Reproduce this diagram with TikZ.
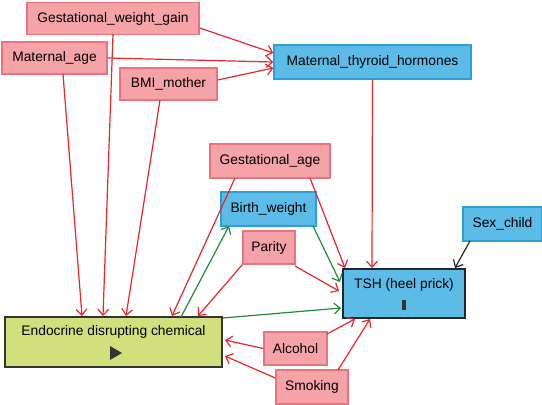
\documentclass[tikz,border=0pt]{standalone}
\usepackage{fontspec}
\setmainfont{Liberation Sans}
\usetikzlibrary{arrows.meta}
\definecolor{rfill}{HTML}{F5A3A8}
\definecolor{rdraw}{HTML}{E9747C}
\definecolor{bfill}{HTML}{5DBBE8}
\definecolor{bdraw}{HTML}{2E9FD6}
\definecolor{gfill}{HTML}{D1E07C}
\definecolor{redarr}{HTML}{E5262D}
\definecolor{grnarr}{HTML}{1E8A3E}
\tikzset{
  box/.style={draw, line width=1.4pt, minimum height=32pt, inner sep=0pt, font=\fontsize{13.8}{15}\selectfont, anchor=center},
  rbox/.style={box, fill=rfill, draw=rdraw},
  bbox/.style={box, fill=bfill, draw=bdraw},
  rarr/.style={draw=redarr, line width=1.2pt, -{Straight Barb[length=6pt,width=11pt]}},
  garr/.style={draw=grnarr, line width=1.2pt, -{Straight Barb[length=6pt,width=11pt]}},
  karr/.style={draw=black!85, line width=1.2pt, -{Straight Barb[length=6pt,width=11pt]}},
}
\begin{document}
\begin{tikzpicture}[x=1pt,y=-1pt]
\useasboundingbox (0,0) rectangle (542,405);
\node[rbox, minimum width=172pt] (gwg) at (113,18.5) {Gestational\_weight\_gain};
\node[rbox, minimum width=105pt] (ma) at (54.5,58) {Maternal\_age};
\node[rbox, minimum width=97pt] (bmi) at (168.5,84) {BMI\_mother};
\node[bbox, minimum width=197pt, minimum height=34pt] (mth) at (372.5,62) {Maternal\_thyroid\_hormones};
\node[rbox, minimum width=120pt, minimum height=34pt] (ga) at (270,161) {Gestational\_age};
\node[bbox, minimum width=95pt, minimum height=34pt] (bw) at (268.5,209) {Birth\_weight};
\node[rbox, minimum width=52pt, minimum height=33pt] (par) at (269,247.5) {Parity};
\node[bbox, minimum width=79pt, minimum height=34pt] (sex) at (502.5,224) {Sex\_child};
\node[draw=black!85, fill=bfill, line width=1.5pt, minimum width=122pt, minimum height=49pt] (tsh) at (404,293.5) {};
\node[font=\fontsize{13.8}{15}\selectfont] (tshlab) at (404,285) {TSH (heel prick)};
\fill[black!80] (402,300) rectangle (406,310);
\node[draw=black!80, fill=gfill, line width=1.5pt, minimum width=217pt, minimum height=50pt] (edc) at (113.5,342) {};
\node[font=\fontsize{13.8}{15}\selectfont] (edclab) at (113.5,332) {Endocrine disrupting chemical};
\fill[black!80] (110,346) -- (122,353) -- (110,360) -- cycle;
\node[rbox, minimum width=63pt, minimum height=33pt] (alc) at (295.5,348.5) {Alcohol};
\node[rbox, minimum width=72pt, minimum height=34pt] (smk) at (312,387) {Smoking};

% edges to maternal thyroid hormones
\draw[rarr] (gwg.east |- 0,28) -- (mth.west |- 0,53);
\draw[rarr] (ma.east) -- (mth.west);
\draw[rarr] (bmi.east |- 0,80) -- (mth.west |- 0,68);
% edges to EDC
\draw[rarr] (63,74) -- (82,316);
\draw[rarr] (113,34) -- (103,316);
\draw[rarr] (160,100) -- (126,316);
\draw[rarr] (235,178) -- (172,316);
\draw[rarr] (par.south west) -- (198,316);
\draw[rarr] (alc.west) -- (225,340);
\draw[rarr] (smk.west |- 0,378) -- (225,356);
% green
\draw[garr] (181,317) -- (229,226);
\draw[garr] (313,226) -- (340,282);
\draw[garr] (edc.east |- 0,318) -- (341,308);
% to TSH
\draw[rarr] (mth.south) -- (372,268);
\draw[rarr] (310,178) -- (345,268);
\draw[rarr] (295,266) -- (339,291);
\draw[rarr] (327,334) -- (355,319);
\draw[rarr] (338,370) -- (370,319);
\draw[karr] (470,241) -- (455,268);
\end{tikzpicture}
\end{document}
